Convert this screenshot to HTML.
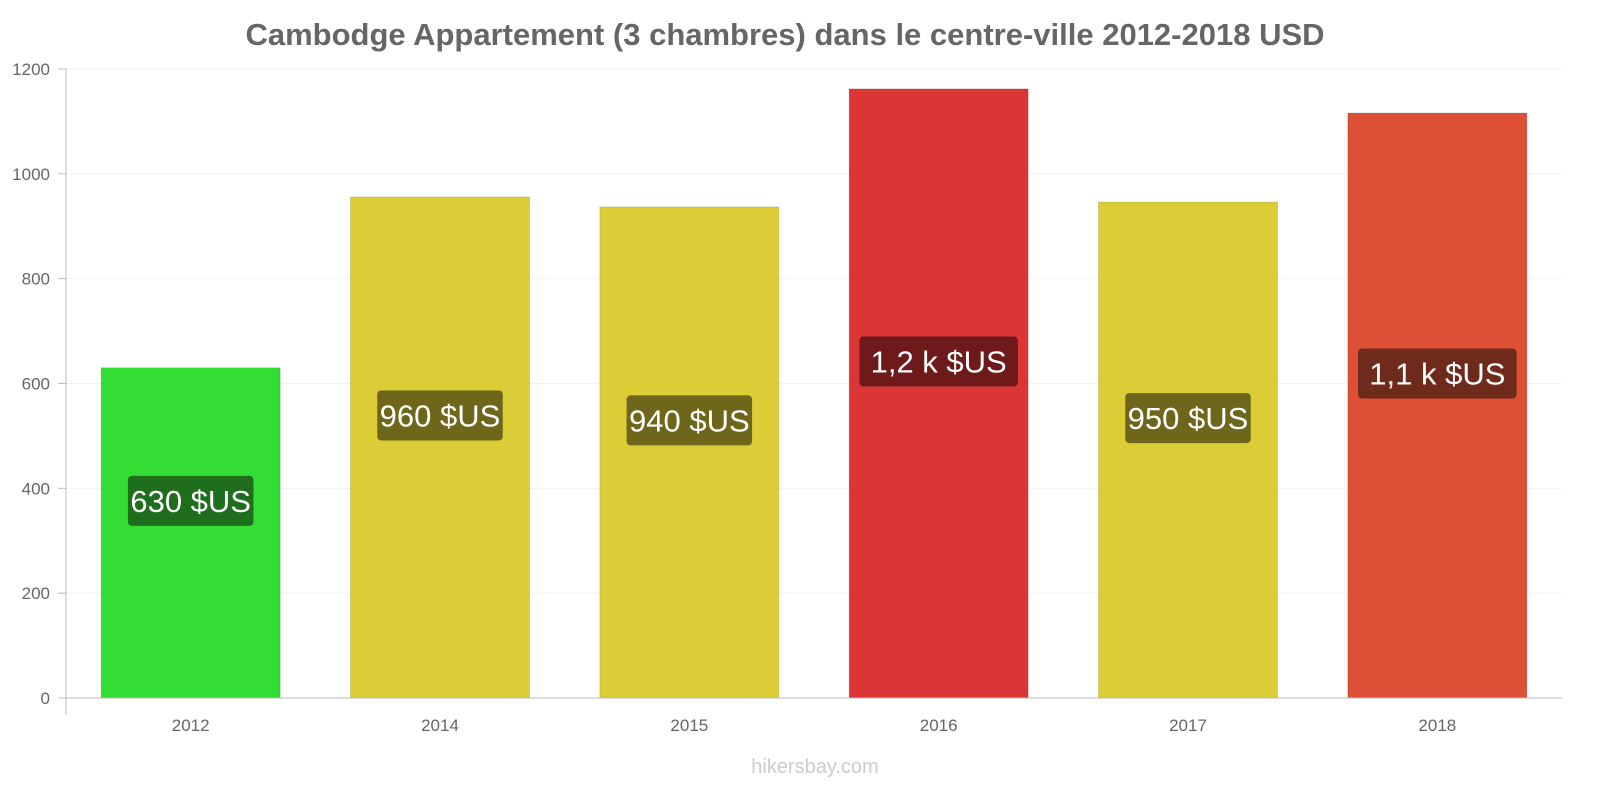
<!DOCTYPE html>
<html><head><meta charset="utf-8"><style>
body{margin:0;background:#fff;font-family:"Liberation Sans",sans-serif}
</style></head><body>
<svg id="chart" width="1600" height="800" xmlns="http://www.w3.org/2000/svg" font-family="Liberation Sans, sans-serif">
<text x="785" y="45" text-anchor="middle" font-size="31" font-weight="bold" fill="#666">Cambodge Appartement (3 chambres) dans le centre-ville 2012-2018 USD</text>
<g id="grid"></g><g id="bars"></g><g id="axes"></g>
<text x="815" y="773" text-anchor="middle" font-size="20" fill="#ccc">hikersbay.com</text>
</svg>
<script>
const categories=["2012","2014","2015","2016","2017","2018"];
const values=[630,956,937,1162,946,1116];
const valueLabels=["630 $US","960 $US","940 $US","1,2 k $US","950 $US","1,1 k $US"];
const yTicks=[0,200,400,600,800,1000,1200];
const barColors=["#33dd33","#dccc35","#dccc35","#dc3535","#dccc35","#dd5035"];
const labelColors=["#1e6e1e","#6e661a","#6e661a","#6e1a1a","#6e661a","#6e2a1a"];
const NS="http://www.w3.org/2000/svg";
const x0=66,x1=1562,yBase=698,yTop=69,yMax=1200;
const band=(x1-x0)/categories.length;
const y=v=>yBase-(v/yMax)*(yBase-yTop);
const xc=i=>x0+band*(i+0.5);
function mk(tag,attrs,parent){const e=document.createElementNS(NS,tag);for(const k in attrs)e.setAttribute(k,attrs[k]);parent.appendChild(e);return e;}
const grid=document.getElementById('grid'),bars=document.getElementById('bars'),axes=document.getElementById('axes');
yTicks.forEach(t=>{
  const l=mk('line',{x1:x0,x2:x1,y1:y(t),y2:y(t),stroke:'#f3f3f3'},grid);
  
  
  const tk=mk('line',{x1:x0-8,x2:x0,y1:y(t),y2:y(t),stroke:'#bbb'},axes);
  
  
  const tx=mk('text',{x:x0-16,y:y(t)+6,'text-anchor':'end','font-size':17,fill:'#666'},axes);
  tx.textContent=t;
  
  
});
const ya=mk('line',{x1:x0,x2:x0,y1:yTop,y2:yBase+16,stroke:'#bbb'},axes);


const xa=mk('line',{x1:x0,x2:x1,y1:yBase,y2:yBase,stroke:'#bbb'},axes);


const bw=179;
categories.forEach((c,i)=>{
  const cx=xc(i),top=y(values[i]);
  const r=mk('rect',{x:cx-bw/2,y:top,width:bw,height:yBase-top,fill:barColors[i],stroke:'rgba(0,0,0,0.12)'},bars);
  
  
  const ly=(top+yBase)/2-32;
  const w=valueLabels[i].length*16.5+10;
  const lb=mk('rect',{x:cx-w/2,y:ly-25,width:w,height:50,rx:4,fill:labelColors[i]},bars);
  
  
  const lt=mk('text',{x:cx,y:ly+11,'text-anchor':'middle','font-size':31,fill:'#fff'},bars);
  lt.textContent=valueLabels[i];
  
  
  const xt=mk('text',{x:cx,y:731,'text-anchor':'middle','font-size':17,fill:'#666'},axes);
  xt.textContent=c;
  
  
});
</script>
</body></html>
